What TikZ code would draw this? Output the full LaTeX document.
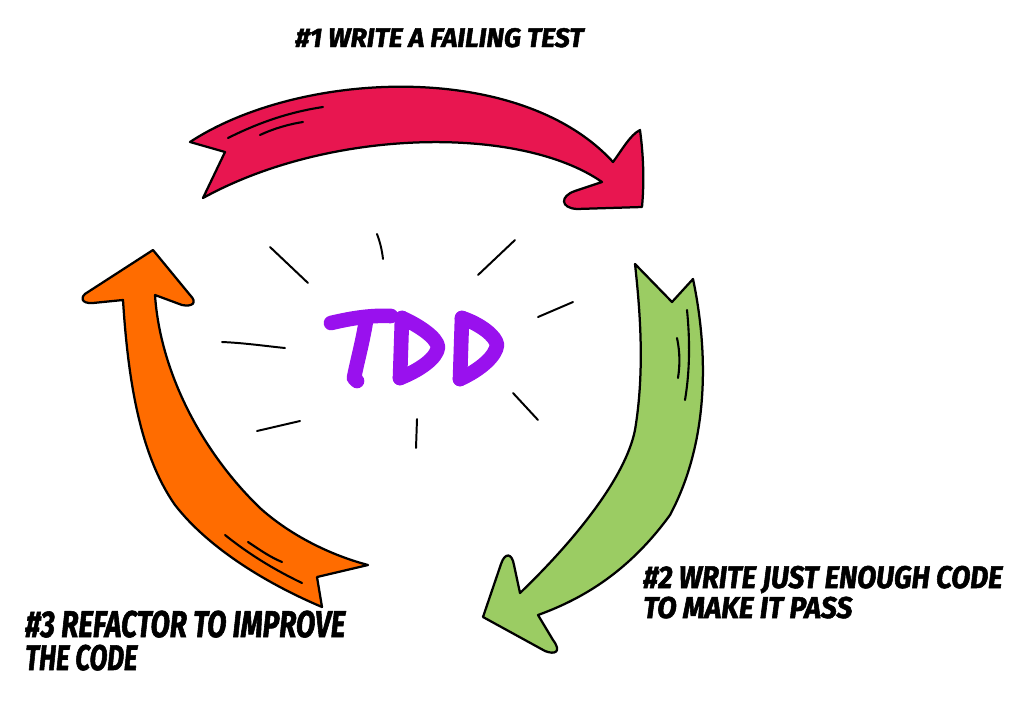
\documentclass[tikz,border=0pt]{standalone}
\usepackage{fontspec}
\newfontfamily\comic[FakeStretch=0.8,FakeBold=1.6]{Fira Sans}
\usepackage{graphicx}
\definecolor{tddred}{RGB}{232,22,80}
\definecolor{tddgreen}{RGB}{155,204,99}
\definecolor{tddorange}{RGB}{255,108,0}
\definecolor{tddpurple}{RGB}{153,17,238}
\begin{document}
\begin{tikzpicture}[x=0.025cm,y=-0.025cm,
  arrowshape/.style={draw=black, line width=1.6pt, line join=round},
  hatch/.style={draw=black, line width=1.5pt, line cap=round},
  ray/.style={draw=black, line width=1.4pt, line cap=round},
  letter/.style={draw=tddpurple, line width=10.4pt, line cap=round, line join=round},
  lab/.style={inner sep=0pt, anchor=base west, font=\comic\bfseries\itshape}]
\useasboundingbox (0,0) rectangle (1024,710);
\fill[white] (0,0) rectangle (1024,710);

% red arrow (#1)
\path[arrowshape, fill=tddred] (190,142)
  .. controls (300,70) and (520,60) .. (613,162)
  .. controls (622,150) and (630,135) .. (640,130)
  .. controls (644,160) and (644,185) .. (642,207)
  -- (577,209) .. controls (560,208) and (560,196) .. (575,191)
  -- (602,182)
  .. controls (520,125) and (330,128) .. (203,198)
  -- (225,152) -- cycle;
\draw[hatch] (228,138) .. controls (260,122) and (290,112) .. (323,107);
\draw[hatch] (260,135) .. controls (275,128) and (290,124) .. (303,122);

% green arrow (#2)
\path[arrowshape, fill=tddgreen] (635,264) -- (672,302) -- (693,279)
  .. controls (708,350) and (710,440) .. (670,515)
  .. controls (630,570) and (585,598) .. (538,615)
  -- (553,640) .. controls (562,652) and (555,655) .. (545,651)
  -- (483,617)
  -- (501,564) .. controls (505,552) and (512,553) .. (514,565)
  -- (520,593)
  .. controls (570,545) and (625,480) .. (635,430)
  .. controls (645,370) and (640,310) .. (635,264) -- cycle;
\draw[hatch] (687,310) .. controls (690,340) and (690,370) .. (685,400);
\draw[hatch] (677,338) .. controls (680,352) and (680,365) .. (678,378);

% orange arrow (#3)
\path[arrowshape, fill=tddorange] (153,250)
  -- (190,295) .. controls (198,303) and (192,307) .. (182,305)
  -- (155,295)
  .. controls (160,370) and (200,450) .. (260,508)
  .. controls (290,535) and (330,555) .. (368,565)
  -- (317,577) -- (322,607)
  .. controls (270,585) and (210,550) .. (175,505)
  .. controls (140,455) and (128,380) .. (123,300)
  -- (93,303) .. controls (80,304) and (80,296) .. (88,292) -- cycle;
\draw[hatch] (225,535) .. controls (250,555) and (275,570) .. (302,583);
\draw[hatch] (248,542) .. controls (260,550) and (270,557) .. (282,562);

% rays
\draw[ray] (270,247) -- (308,283);
\draw[ray] (377,234) .. controls (380,242) and (382,250) .. (383,259);
\draw[ray] (515,240) -- (478,275);
\draw[ray] (573,302) -- (538,317);
\draw[ray] (222,342) .. controls (245,343) and (265,346) .. (285,348);
\draw[ray] (300,421) -- (257,431);
\draw[ray] (417,419) -- (416,448);
\draw[ray] (513,393) -- (538,420);

% TDD
\draw[letter] (331,323) .. controls (352,318) and (372,315) .. (391,316);
\draw[letter] (366,321) .. controls (362,345) and (357,362) .. (354,378) -- (357,381);
\draw[letter] (402,318) -- (400,378);
\draw[letter] (402,318) .. controls (420,326) and (437,338) .. (438,347)
  .. controls (437,358) and (420,370) .. (400,378);
\draw[letter] (462,318) -- (460,379);
\draw[letter] (462,318) .. controls (480,324) and (496,336) .. (497,345)
  .. controls (496,356) and (480,370) .. (460,379);

% labels
\node[lab] (lab1) at (295,47) {\resizebox{204.9pt}{13.5pt}{\#1 WRITE A FAILING TEST}};
\node[lab] (lab2a) at (643,588) {\resizebox{255.4pt}{15.8pt}{\#2 WRITE JUST ENOUGH CODE}};
\node[lab] (lab2b) at (643,618) {\resizebox{148.7pt}{15.2pt}{TO MAKE IT PASS}};
\node[lab] (lab3a) at (25,637) {\resizebox{227.6pt}{18.8pt}{\#3 REFACTOR TO IMPROVE}};
\node[lab] (lab3b) at (25,670) {\resizebox{79.7pt}{18pt}{THE CODE}};
\end{tikzpicture}
\end{document}
